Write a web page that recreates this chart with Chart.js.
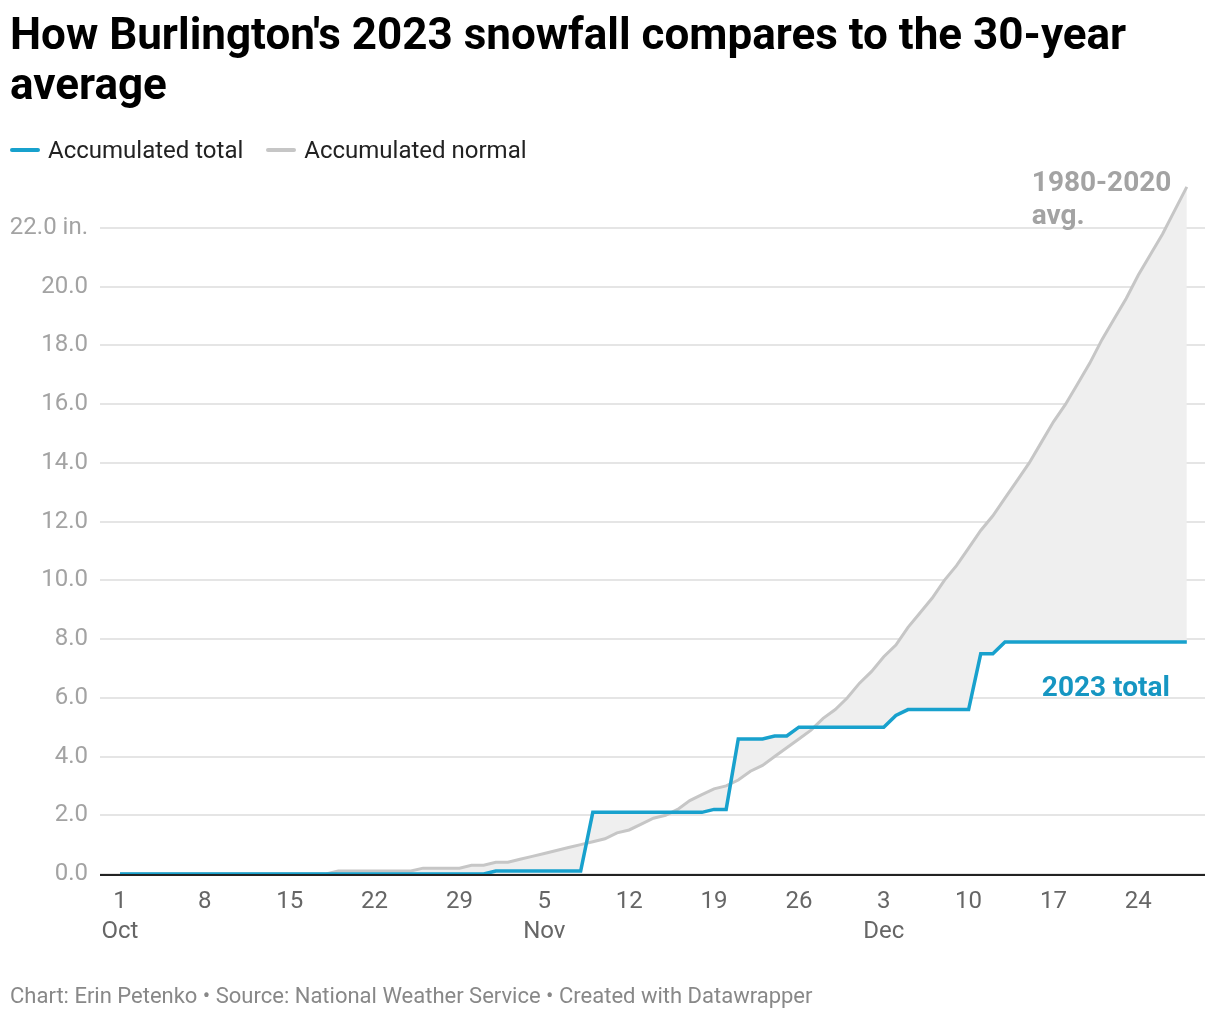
<!DOCTYPE html>
<html>
<head>
<meta charset="utf-8">
<script src="https://cdn.jsdelivr.net/npm/chart.js@4.4.1/dist/chart.umd.min.js"></script>
<style>
    body { margin: 0; width: 1220px; height: 1020px; background: #fff; font-family: Roboto, sans-serif; position: relative; overflow: hidden; }
    h1 { position: absolute; left: 10px; top: 9px; margin: 0; font-size: 44px; line-height: 50px; font-weight: 700; color: #000; white-space: nowrap; z-index: 2; }
    .legend { position: absolute; left: 10px; top: 135px; font-size: 24px; line-height: 30px; color: #222; display: flex; z-index: 2; }
    .legend span { display: flex; align-items: center; margin-right: 23px; }
    .legend i { display: inline-block; width: 30px; height: 4px; border-radius: 2px; margin-right: 8px; }
    #wrap { position: absolute; left: 0; top: 0; width: 1220px; height: 1020px; }
    .footer { position: absolute; left: 10px; top: 983px; font-size: 22px; color: #888; z-index: 2; }
</style>
</head>
<body>
<h1>How Burlington's 2023 snowfall compares to the 30-year<br>average</h1>
<div class="legend">
    <span><i style="background:#18a1cd"></i>Accumulated total</span>
    <span><i style="background:#c6c6c6"></i>Accumulated normal</span>
</div>
<div id="wrap"><canvas id="snowChart"></canvas></div>
<div class="footer">Chart: Erin Petenko • Source: National Weather Service • Created with Datawrapper</div>

<script>
// day 0 = Oct 1, day 88 = Dec 28
const days = Array.from({ length: 89 }, (_, i) => i);

// 2023 accumulated snowfall (in.)
const accumulatedTotal = [
    0, 0, 0, 0, 0, 0, 0, 0, 0, 0, 0, 0, 0, 0, 0, 0, 0, 0, 0, 0, 0, 0, 0, 0, 0, 0, 0, 0, 0, 0, 0,
    0.1, 0.1, 0.1, 0.1, 0.1, 0.1, 0.1, 0.1,
    2.1, 2.1, 2.1, 2.1, 2.1, 2.1, 2.1, 2.1, 2.1, 2.1,
    2.2, 2.2,
    4.6, 4.6, 4.6,
    4.7, 4.7,
    5.0, 5.0, 5.0, 5.0, 5.0, 5.0, 5.0, 5.0,
    5.4,
    5.6, 5.6, 5.6, 5.6, 5.6, 5.6,
    7.5, 7.5,
    7.9, 7.9, 7.9, 7.9, 7.9, 7.9, 7.9, 7.9, 7.9, 7.9, 7.9, 7.9, 7.9, 7.9, 7.9, 7.9
];

// 1980-2020 accumulated normal (in.)
const accumulatedNormal = [
    0, 0, 0, 0, 0, 0, 0, 0, 0, 0, 0, 0, 0, 0, 0, 0, 0, 0,
    0.1, 0.1, 0.1, 0.1, 0.1, 0.1, 0.1,
    0.2, 0.2, 0.2, 0.2,
    0.3, 0.3,
    0.4, 0.4,
    0.5, 0.6, 0.7, 0.8, 0.9, 1.0, 1.1, 1.2, 1.4, 1.5,
    1.7, 1.9, 2.0, 2.2, 2.5, 2.7, 2.9, 3.0, 3.2, 3.5,
    3.7, 4.0, 4.3, 4.6, 4.9, 5.3, 5.6, 6.0, 6.5, 6.9,
    7.4, 7.8, 8.4, 8.9, 9.4, 10.0, 10.5, 11.1, 11.7, 12.2,
    12.8, 13.4, 14.0, 14.7, 15.4, 16.0, 16.7, 17.4, 18.2, 18.9,
    19.6, 20.4, 21.1, 21.8, 22.6, 23.4
];

const xTickDays = [0, 7, 14, 21, 28, 35, 42, 49, 56, 63, 70, 77, 84];
const xTickLabels = [['1', 'Oct'], '8', '15', '22', '29', ['5', 'Nov'], '12', '19', '26', ['3', 'Dec'], '10', '17', '24'];
const yTicks = [0, 2, 4, 6, 8, 10, 12, 14, 16, 18, 20, 22];
const yTickLabels = ['0.0', '2.0', '4.0', '6.0', '8.0', '10.0', '12.0', '14.0', '16.0', '18.0', '20.0', '22.0 in.'];

const BLUE = '#18a1cd';
const GRAY = '#c6c6c6';

const notesPlugin = {
    id: 'notes',
    afterDatasetsDraw(chart) {
        const { ctx, chartArea, scales: { x, y } } = chart;
        const last = days.length - 1;
        const lastX = x.getPixelForValue(days[last]);
        ctx.save();
        // zero baseline
        const y0 = y.getPixelForValue(0) + 1;
        ctx.strokeStyle = '#222';
        ctx.lineWidth = 2;
        ctx.beginPath();
        ctx.moveTo(chartArea.left, y0);
        ctx.lineTo(chartArea.right, y0);
        ctx.stroke();

        ctx.font = 'bold 28px Roboto';
        ctx.textBaseline = 'alphabetic';
        ctx.textAlign = 'left';
        ctx.fillStyle = '#a3a3a3';
        const ny = y.getPixelForValue(accumulatedNormal[last]);
        ctx.fillText('1980-2020', lastX - 155, ny + 4);
        ctx.fillText('avg.', lastX - 155, ny + 37);

        ctx.textAlign = 'right';
        ctx.fillStyle = '#1696c2';
        ctx.fillText('2023 total', lastX - 17, y.getPixelForValue(accumulatedTotal[last]) + 54);
        ctx.restore();
    }
};

new Chart(document.getElementById('snowChart'), {
    type: 'line',
    data: {
        datasets: [
            {
                label: 'Accumulated total',
                data: days.map((d, i) => ({ x: d, y: accumulatedTotal[i] })),
                borderColor: BLUE,
                borderWidth: 3.5,
                pointRadius: 0,
                tension: 0,
                fill: false
            },
            {
                label: 'Accumulated normal',
                data: days.map((d, i) => ({ x: d, y: accumulatedNormal[i] })),
                borderColor: GRAY,
                borderWidth: 3,
                pointRadius: 0,
                tension: 0,
                fill: { target: 0, above: '#efefef', below: '#efefef' }
            }
        ]
    },
    options: {
        responsive: true,
        maintainAspectRatio: false,
        animation: false,
        layout: { padding: { top: 184, right: 15, left: 0, bottom: 0 } },
        plugins: {
            legend: { display: false },
            title: { display: false },
            tooltip: { enabled: false }
        },
        scales: {
            x: {
                type: 'linear',
                min: -1.65,
                max: 89.5,
                afterBuildTicks: (scale) => { scale.ticks = xTickDays.map(v => ({ value: v })); },
                afterFit: (scale) => { scale.height = 146; },
                grid: { display: false, drawTicks: false },
                border: { display: false },
                ticks: {
                    autoSkip: false,
                    maxRotation: 0,
                    padding: 13,
                    color: '#666',
                    font: { family: 'Roboto', size: 24, lineHeight: 1.25 },
                    callback: (value) => xTickLabels[xTickDays.indexOf(value)]
                }
            },
            y: {
                min: 0,
                max: 23.5,
                afterBuildTicks: (scale) => { scale.ticks = yTicks.map(v => ({ value: v })); },
                afterFit: (scale) => { scale.width = 100; },
                grid: { color: '#e5e5e5', lineWidth: 2, drawTicks: false },
                border: { display: false },
                ticks: {
                    padding: 12,
                    color: '#a3a3a3',
                    font: { family: 'Roboto', size: 24 },
                    callback: (value, index) => yTickLabels[index]
                }
            }
        }
    },
    plugins: [notesPlugin]
});
</script>
</body>
</html>
